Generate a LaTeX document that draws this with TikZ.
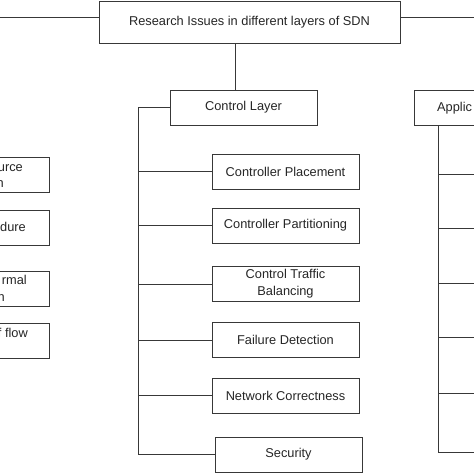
\documentclass[tikz,border=0pt]{standalone}
\usepackage{fontspec}
\setmainfont{Liberation Sans}
\begin{document}
\begin{tikzpicture}[x=1pt,y=-1pt,
  box/.style={draw=black!78,line width=0.9pt,fill=white,minimum width=147pt,minimum height=35pt,inner sep=0pt,align=center,text=black!85,font=\fontsize{12.8}{17}\selectfont},
  frag/.style={inner sep=0pt,text=black!85,font=\fontsize{12.8}{17}\selectfont},
  conn/.style={draw=black!78,line width=0.9pt}]
\useasboundingbox (0,0) rectangle (474,474);
\clip (0,0) rectangle (474,474);
% top
\node[box,minimum width=301pt,minimum height=42pt] (top) at (249.5,22) {Research Issues in different layers of SDN};
\coordinate (tl) at (-10,17);
\coordinate (tr) at (484,17);
\coordinate (j1) at (235,0);
\draw[conn] (tl) -- (top.west |- tl);
\draw[conn] (top.east |- tr) -- (tr);
% control layer
\node[box] (ctrl) at (243.5,107.5) {Control Layer};
\draw[conn] (top.south -| j1) -- (ctrl.north -| j1);
\node[box] (cp) at (285.5,171.5) {Controller Placement};
\node[box] (cpart) at (285.5,225.5) {Controller Partitioning};
\node[box] (ctb) at (285.5,284) {Control Traffic\\Balancing};
\node[box] (fd) at (285.5,340) {Failure Detection};
\node[box] (nc) at (285.5,395.5) {Network Correctness};
\node[box] (sec) at (288.5,454.5) {Security};
\coordinate (spine) at (138,455);
\draw[conn] (ctrl.west) -- (ctrl.west -| spine) -- (spine);
\foreach \n in {cp,cpart,ctb,fd,nc,sec} \draw[conn] (\n.west) -- (\n.west -| spine);
% application layer (cut at right edge)
\node[box] (app) at (487.5,107.5) {};
\node[frag,anchor=west] (apptxt) at (437,108) {Applic};
\coordinate (aspine) at (438,452);
\draw[conn] (app.south -| aspine) -- (aspine);
\coordinate (a1) at (484,174);
\coordinate (a2) at (484,228);
\coordinate (a3) at (484,283);
\coordinate (a4) at (484,337);
\coordinate (a5) at (484,393);
\coordinate (a6) at (484,452);
\foreach \a in {a1,a2,a3,a4,a5,a6} \draw[conn] (aspine |- \a) -- (\a);
% left boxes (cut at left edge)
\node[box] (l1) at (-24.5,174.5) {};
\node[box] (l2) at (-24.5,227.5) {};
\node[box] (l3) at (-24.5,288.5) {};
\node[box] (l4) at (-24.5,340.5) {};
\node[frag,anchor=base east] (l1a) at (23,171) {urce};
\node[frag,anchor=base east] (l1b) at (4,187) {n};
\node[frag,anchor=base east] (l2a) at (26,231) {edure};
\node[frag,anchor=base east] (l3a) at (27,284) {rmal};
\node[frag,anchor=base east] (l3b) at (5,301) {n};
\node[frag,anchor=base east] (l4a) at (28,337) {f flow};
\end{tikzpicture}
\end{document}
